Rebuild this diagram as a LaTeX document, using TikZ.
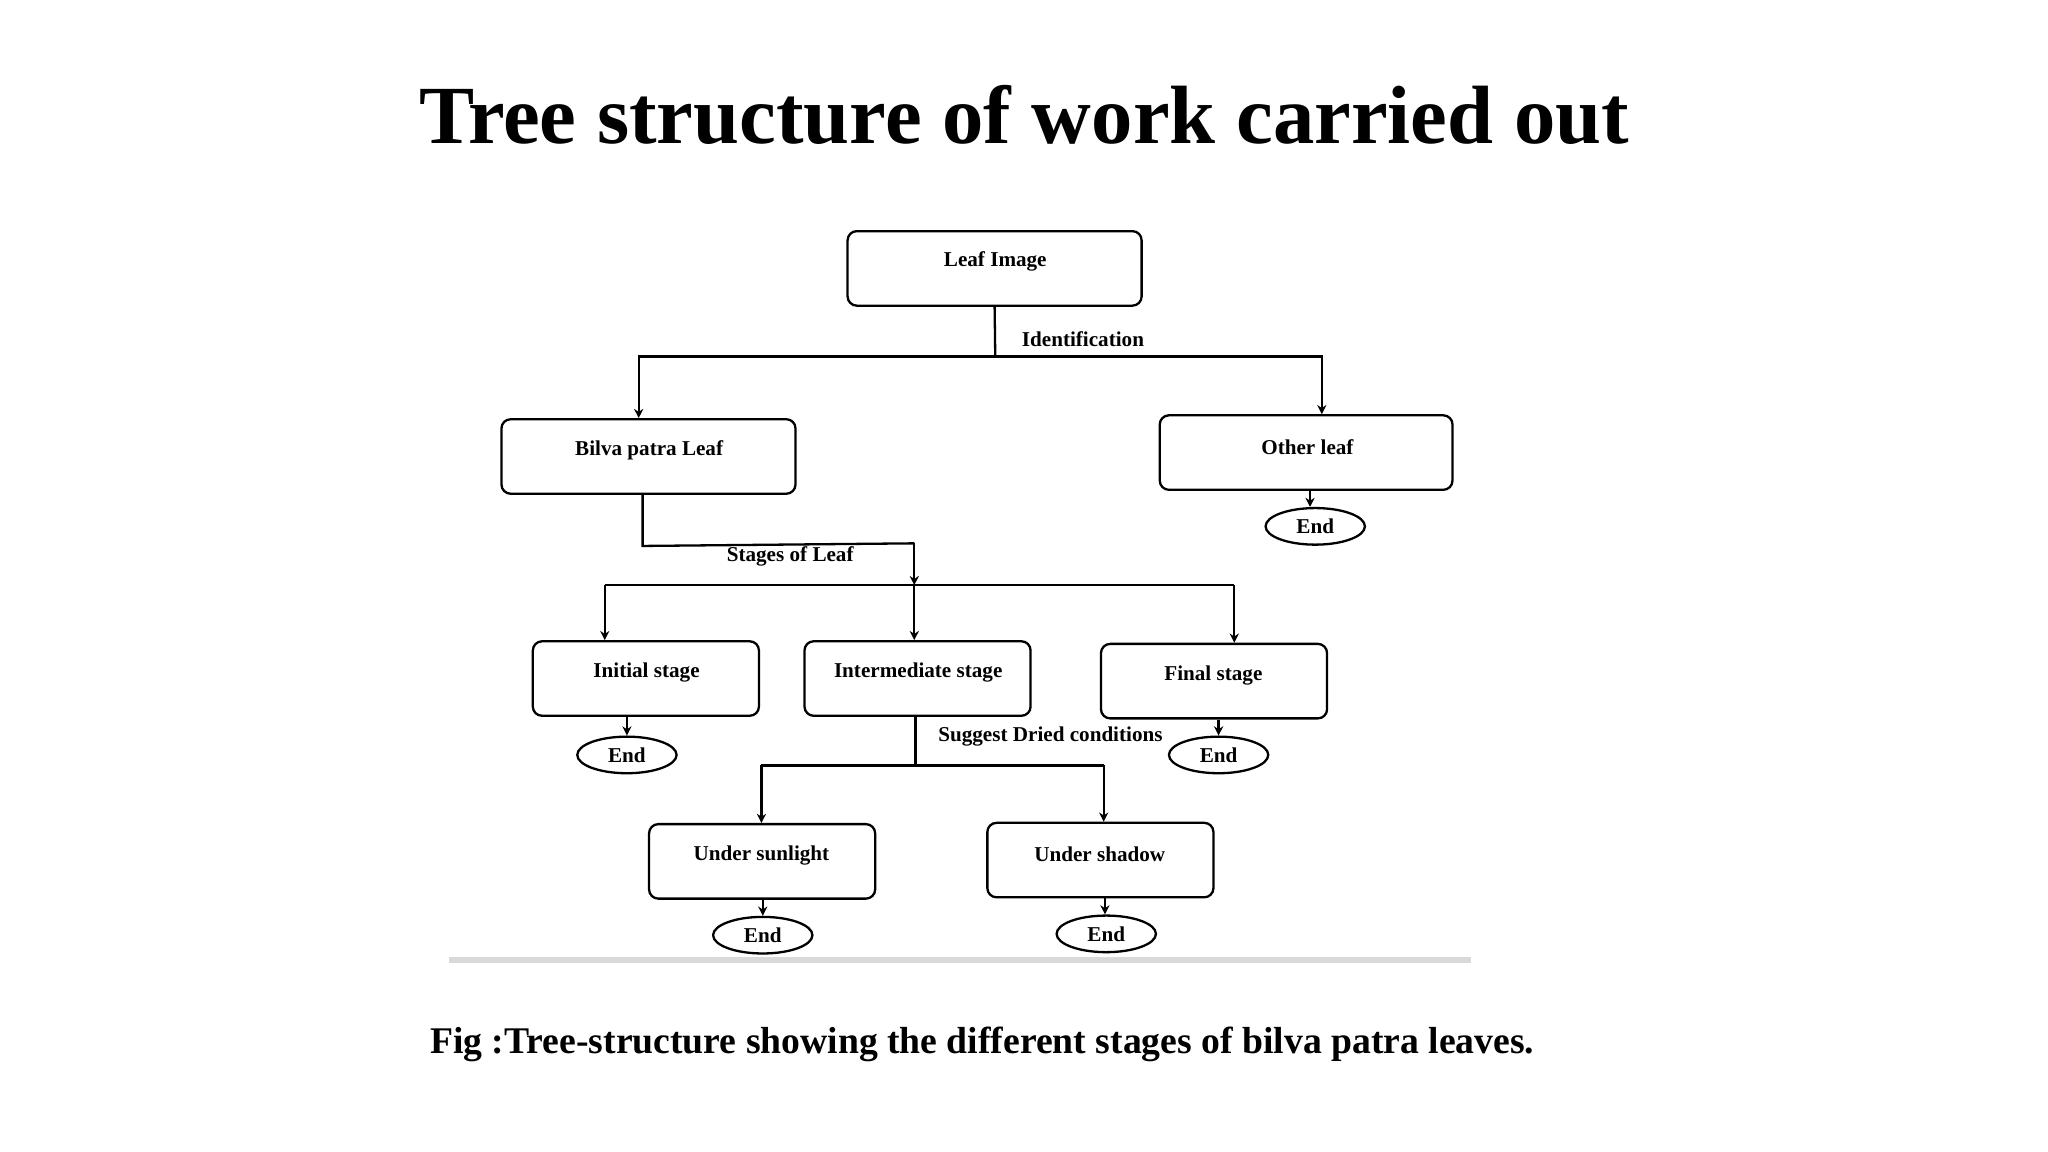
\documentclass[tikz,border=0pt]{standalone}
\usepackage{fontspec}
\setmainfont{Liberation Serif}
\usetikzlibrary{arrows.meta,shapes.geometric}
\begin{document}
\begin{tikzpicture}[x=0.01cm,y=-0.01cm,
  box/.style={draw,line width=0.5pt,rounded corners=2pt,minimum width=2.2cm,minimum height=0.57cm,inner sep=0pt},
  btxt/.style={font=\fontsize{4.6}{5}\selectfont\bfseries},
  endnode/.style={draw,ellipse,line width=0.5pt,minimum width=0.76cm,minimum height=0.28cm,inner sep=0pt,font=\fontsize{4.6}{5}\selectfont\bfseries},
  conn/.style={line width=0.5pt},
  arr/.style={conn,-{Stealth[length=2pt,width=2pt]}}]
\useasboundingbox (0,0) rectangle (1568,882);
\node[font=\fontsize{18}{20}\selectfont\bfseries] (title) at (784,88) {Tree structure of work carried out};
% boxes
\node[box,minimum width=2.25cm] (leaf) at (761.5,205.5) {};
\node[btxt] (leaft) at (762,200) {Leaf Image};
\node[box,minimum width=2.25cm] (bilva) at (496.5,349.5) {};
\node[btxt] at (497,345) {Bilva patra Leaf};
\node[box,minimum width=2.24cm] (other) at (1000,346.5) {};
\node[btxt] at (1001,342) {Other leaf};
\node[endnode] (e1) at (1007,403) {End};
\node[box,minimum width=1.73cm] (init) at (494.5,519.5) {};
\node[btxt] at (495,515) {Initial stage};
\node[box,minimum width=1.73cm] (inter) at (702.5,519.5) {};
\node[btxt] at (703,515) {Intermediate stage};
\node[box,minimum width=1.73cm] (final) at (929.5,521.5) {};
\node[btxt] at (929,517) {Final stage};
\node[endnode] (e2) at (480,578) {End};
\node[endnode] (e3) at (933,578) {End};
\node[box,minimum width=1.73cm] (sun) at (583.5,659.5) {};
\node[btxt] at (583,655) {Under sunlight};
\node[box,minimum width=1.73cm] (shadow) at (842.5,658.5) {};
\node[btxt] at (842,654) {Under shadow};
\node[endnode] (e4) at (584,716) {End};
\node[endnode] (e5) at (847,715) {End};
% connectors
\coordinate (j1) at (762,273);
\coordinate (jl) at (489,273);
\coordinate (jr) at (1012,273);
\draw[conn] (leaf.south) -- (j1);
\draw[arr] (j1) -- (jl) -- (jl |- bilva.north);
\draw[arr] (j1) -- (jr) -- (jr |- other.north);
\node[btxt,anchor=west] (idl) at (770,260) {Identification};
\draw[arr] (other.south -| e1.north) ++(-4,0) coordinate (o1) -- (o1 |- e1.north);
\coordinate (b1) at (492,418);
\coordinate (b2) at (700,416);
\coordinate (b3) at (700,448);
\coordinate (hl) at (463,448);
\coordinate (hr) at (945,448);
\draw[conn] (bilva.south -| b1) -- (b1) -- (b2);
\draw[arr] (b2) -- (b3);
\node[btxt] (stl) at (605,426) {Stages of Leaf};
\draw[conn] (hl) -- (hr);
\draw[arr] (hl) -- (hl |- init.north);
\draw[arr] (b3) -- (b3 |- inter.north);
\draw[arr] (hr) -- (hr |- final.north);
\draw[arr] (init.south -| e2) -- (e2.north);
\draw[arr] (final.south -| e3) -- (e3.north);
\coordinate (c1) at (701,586);
\coordinate (cl) at (583,586);
\coordinate (cr) at (845,586);
\draw[conn] (inter.south -| c1) -- (c1);
\draw[conn] (cl) -- (cr);
\draw[arr] (cl) -- (cl |- sun.north);
\draw[arr] (cr) -- (cr |- shadow.north);
\node[btxt,anchor=west] (sdl) at (706,564) {Suggest Dried conditions};
\draw[arr] (sun.south -| e4) -- (e4.north);
\draw[arr] (shadow.south -| e5) ++(-1,0) coordinate (s1) -- (s1 |- e5.north);
\draw[gray!30,line width=1.2pt] (344,735) -- (1126,735);
\node[font=\fontsize{8.2}{10}\selectfont\bfseries] (cap) at (752,800) {Fig :Tree-structure showing the different stages of bilva patra leaves.};
\end{tikzpicture}
\end{document}
